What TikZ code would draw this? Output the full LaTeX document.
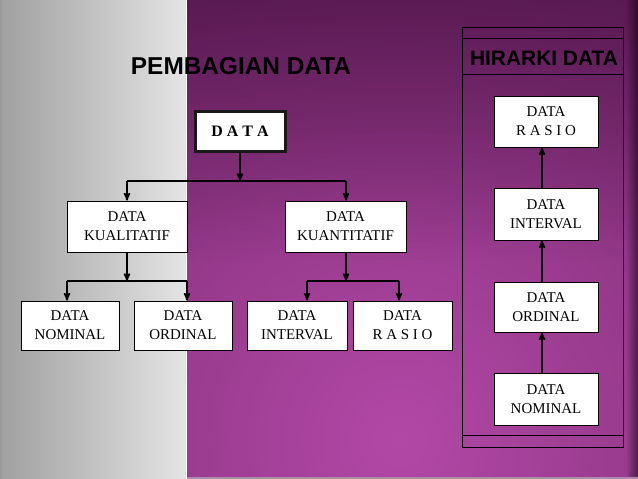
\documentclass[tikz,border=0pt]{standalone}
\usepackage{fontspec}
\setmainfont{Liberation Serif}
\newfontfamily\headfont{Liberation Sans}
\usetikzlibrary{positioning,arrows,fadings}

\definecolor{greyleft}{RGB}{160,160,160}
\definecolor{greyright}{RGB}{228,228,228}
\definecolor{plumdark}{RGB}{66,14,60}
\definecolor{plumlight}{RGB}{178,72,166}
\definecolor{plumedge}{RGB}{172,140,166}
\pgfdeclareradialshading{plumglow}{\pgfpoint{0bp}{0bp}}{color(0bp)=(plumlight); color(50bp)=(plumdark)}

\begin{document}
\begin{tikzpicture}[x=1bp,y=-1bp,on grid,>=stealth',
		box/.style={rectangle,draw=black,fill=white,line width=0.8bp,inner sep=0pt,align=center,font=\fontsize{15}{19}\selectfont},
		link/.style={line width=1.6bp},
		title/.style={inner sep=0pt,font=\headfont\bfseries\fontsize{24.5}{24.5}\selectfont}]
		% background
		\useasboundingbox (0,0) rectangle (638,479);
		\shade[left color=greyleft,right color=greyright] (0,0) rectangle (187,479);
		\fill[gray!80] (0,0) rectangle (1.5,479);
		\begin{scope}
			\clip (187,0) rectangle (638,479);
			\fill[plumdark] (187,0) rectangle (638,479);
			\shade[shading=plumglow] (400,440) circle (520);
			\fill[plumdark,opacity=.6,path fading=south] (187,0) rectangle (638,260);
		\end{scope}
		\fill[black,opacity=.5,path fading=west] (626,0) rectangle (638,479);
		\fill[plumedge] (187,476.5) rectangle (638,479);
		\draw[white,line width=1bp] (186.5,0) -- (186.5,479);
		
		% titles
		\node[title]        (pembagian) at (241,66)   {PEMBAGIAN DATA};
		\node[title,font=\headfont\bfseries\fontsize{21}{21}\selectfont]
		                    (hirarki)   at (544,58)   {HIRARKI DATA};
		
		% tree
		\node[box,line width=3bp,draw=black!90,minimum width=90bp,minimum height=40bp,
		      font=\bfseries\fontsize{16}{19}\selectfont]
		                    (data)      at (240,131.5) {D A T A};
		\node[box,minimum width=120bp,minimum height=51bp] (kual) at (127,226.5)   {DATA\\KUALITATIF};
		\node[box,minimum width=121bp,minimum height=51bp] (kuan) at (345.5,226.5) {DATA\\KUANTITATIF};
		\node[box,minimum width=98bp,minimum height=49bp]  (nominal) at (70,325.5) {DATA\\NOMINAL};
		\node[box,minimum width=98bp,minimum height=49bp]  (ordinal)  [right=113bp of nominal]   {DATA\\ORDINAL};
		\node[box,minimum width=100bp,minimum height=49bp] (interval) [right=114bp of ordinal]   {DATA\\INTERVAL};
		\node[box,minimum width=99bp,minimum height=49bp]  (rasio)    [right=105.5bp of interval] {DATA\\R A S I O};
		
		\coordinate (bus1) at (240,181);
		\coordinate (c1) at (127,181);
		\coordinate (c2) at (346,181);
		\coordinate (bus2) at (127,281);
		\coordinate (bus3) at (346,281);
		\coordinate (k1) at (67,281);
		\coordinate (k2) at (187,281);
		\coordinate (q1) at (307,281);
		\coordinate (q2) at (399,281);
		
		\draw[link,->] (data) -- (bus1);
		\draw[link] (c1) -- (c2);
		\draw[link,->] (c1) -- (kual);
		\draw[link,->] (c2) -- (c2 |- kuan.north);
		
		\draw[link,->] (kual) -- (bus2);
		\draw[link] (k1) -- (k2);
		\draw[link,->] (k1) -- (k1 |- nominal.north);
		\draw[link,->] (k2) -- (k2 |- ordinal.north);
		
		\draw[link,->] (bus3 |- kuan.south) -- (bus3);
		\draw[link] (q1) -- (q2);
		\draw[link,->] (q1) -- (q1 |- interval.north);
		\draw[link,->] (q2) -- (q2 |- rasio.north);
		
		% hierarchy
		\draw[line width=0.8bp] (462,27) rectangle (623,447);
		\draw[line width=0.8bp] (462,38) -- (623,38);
		\draw[line width=0.8bp] (462,74) -- (623,74);
		\draw[line width=0.8bp] (462,435) -- (623,435);
		
		\node[box,minimum width=104bp,minimum height=51bp] (hrasio) at (546,121.5) {DATA\\R A S I O};
		\node[box,minimum width=104bp,minimum height=52bp] (hinterval) [below=92.5bp of hrasio]    {DATA\\INTERVAL};
		\node[box,minimum width=104bp,minimum height=50bp] (hordinal)  [below=93bp of hinterval]   {DATA\\ORDINAL};
		\node[box,minimum width=104bp,minimum height=52bp] (hnominal)  [below=92bp of hordinal]    {DATA\\NOMINAL};
		
		\draw[link,->] ([xshift=-4bp]hinterval.north) -- ([xshift=-4bp]hrasio.south);
		\draw[link,->] ([xshift=-4bp]hordinal.north)  -- ([xshift=-4bp]hinterval.south);
		\draw[link,->] ([xshift=-4bp]hnominal.north)  -- ([xshift=-4bp]hordinal.south);
\end{tikzpicture}
\end{document}
